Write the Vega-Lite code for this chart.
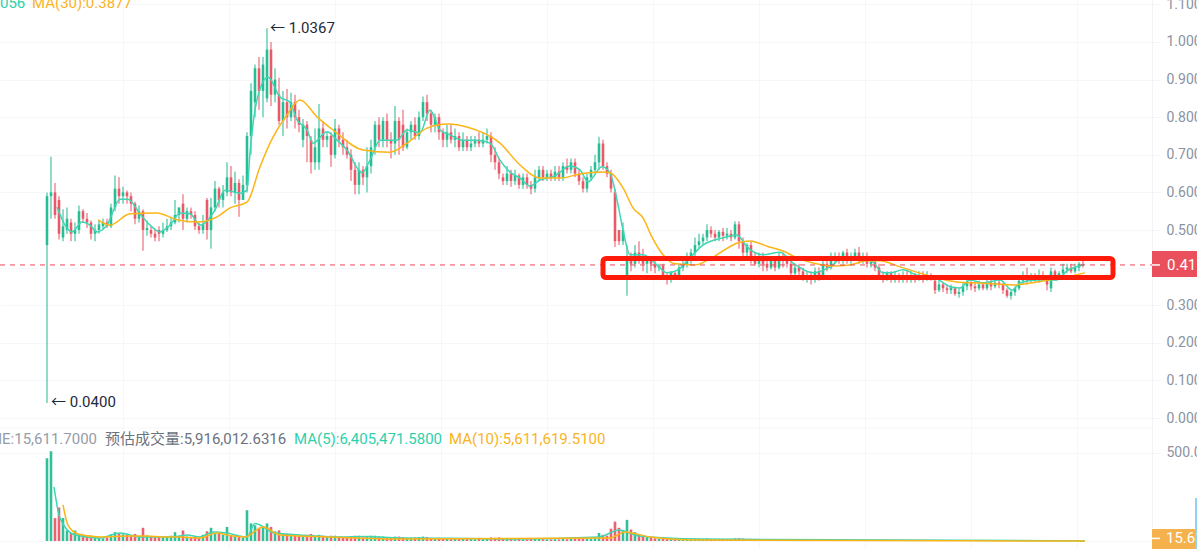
{
"$schema":"https://vega.github.io/schema/vega-lite/v6.json",
"width":1152,"height":549,
"autosize":{"type":"none"},
"padding":{"left":0,"top":0,"right":45,"bottom":0},
"background":"#ffffff",
"config":{"view":{"stroke":null},"font":"Roboto"},
"datasets":{
"candles":[
{"t":0,"o":0.46,"c":0.59,"h":0.6,"l":0.04,"v":470},
{"t":1,"o":0.59,"c":0.6,"h":0.695,"l":0.53,"v":510},
{"t":2,"o":0.6,"c":0.54,"h":0.625,"l":0.53,"v":130},
{"t":3,"o":0.58,"c":0.49,"h":0.59,"l":0.475,"v":190},
{"t":4,"o":0.48,"c":0.51,"h":0.555,"l":0.47,"v":130},
{"t":5,"o":0.5,"c":0.53,"h":0.56,"l":0.49,"v":60},
{"t":6,"o":0.52,"c":0.49,"h":0.53,"l":0.47,"v":45},
{"t":7,"o":0.49,"c":0.5,"h":0.52,"l":0.47,"v":60},
{"t":8,"o":0.5,"c":0.55,"h":0.565,"l":0.49,"v":40},
{"t":9,"o":0.55,"c":0.53,"h":0.555,"l":0.52,"v":35},
{"t":10,"o":0.53,"c":0.52,"h":0.545,"l":0.505,"v":30},
{"t":11,"o":0.52,"c":0.49,"h":0.525,"l":0.475,"v":30},
{"t":12,"o":0.49,"c":0.5,"h":0.515,"l":0.47,"v":25},
{"t":13,"o":0.5,"c":0.515,"h":0.525,"l":0.49,"v":18},
{"t":14,"o":0.51,"c":0.52,"h":0.53,"l":0.5,"v":15},
{"t":15,"o":0.52,"c":0.51,"h":0.53,"l":0.505,"v":20},
{"t":16,"o":0.51,"c":0.56,"h":0.57,"l":0.505,"v":38},
{"t":17,"o":0.56,"c":0.61,"h":0.645,"l":0.55,"v":50},
{"t":18,"o":0.61,"c":0.59,"h":0.64,"l":0.57,"v":42},
{"t":19,"o":0.59,"c":0.6,"h":0.615,"l":0.57,"v":38},
{"t":20,"o":0.6,"c":0.59,"h":0.605,"l":0.57,"v":35},
{"t":21,"o":0.59,"c":0.57,"h":0.6,"l":0.55,"v":30},
{"t":22,"o":0.57,"c":0.53,"h":0.575,"l":0.515,"v":40},
{"t":23,"o":0.53,"c":0.55,"h":0.565,"l":0.52,"v":25},
{"t":24,"o":0.55,"c":0.5,"h":0.555,"l":0.445,"v":75},
{"t":25,"o":0.5,"c":0.505,"h":0.525,"l":0.485,"v":30},
{"t":26,"o":0.5,"c":0.49,"h":0.51,"l":0.48,"v":28},
{"t":27,"o":0.49,"c":0.48,"h":0.5,"l":0.47,"v":22},
{"t":28,"o":0.5,"c":0.49,"h":0.51,"l":0.47,"v":28},
{"t":29,"o":0.49,"c":0.5,"h":0.52,"l":0.48,"v":20},
{"t":30,"o":0.5,"c":0.51,"h":0.53,"l":0.495,"v":25},
{"t":31,"o":0.51,"c":0.52,"h":0.535,"l":0.5,"v":30},
{"t":32,"o":0.52,"c":0.54,"h":0.58,"l":0.515,"v":50},
{"t":33,"o":0.54,"c":0.56,"h":0.56,"l":0.52,"v":30},
{"t":34,"o":0.57,"c":0.53,"h":0.595,"l":0.5,"v":60},
{"t":35,"o":0.53,"c":0.55,"h":0.56,"l":0.52,"v":25},
{"t":36,"o":0.55,"c":0.54,"h":0.56,"l":0.53,"v":22},
{"t":37,"o":0.54,"c":0.51,"h":0.55,"l":0.5,"v":25},
{"t":38,"o":0.51,"c":0.5,"h":0.52,"l":0.49,"v":20},
{"t":39,"o":0.5,"c":0.515,"h":0.54,"l":0.49,"v":35},
{"t":40,"o":0.58,"c":0.5,"h":0.585,"l":0.475,"v":55},
{"t":41,"o":0.5,"c":0.56,"h":0.585,"l":0.45,"v":75},
{"t":42,"o":0.56,"c":0.61,"h":0.63,"l":0.55,"v":45},
{"t":43,"o":0.61,"c":0.58,"h":0.615,"l":0.56,"v":40},
{"t":44,"o":0.58,"c":0.6,"h":0.62,"l":0.56,"v":35},
{"t":45,"o":0.6,"c":0.64,"h":0.68,"l":0.59,"v":80},
{"t":46,"o":0.64,"c":0.6,"h":0.67,"l":0.59,"v":35},
{"t":47,"o":0.6,"c":0.625,"h":0.655,"l":0.57,"v":30},
{"t":48,"o":0.625,"c":0.58,"h":0.635,"l":0.535,"v":25},
{"t":49,"o":0.58,"c":0.62,"h":0.645,"l":0.58,"v":20},
{"t":50,"o":0.62,"c":0.75,"h":0.76,"l":0.6,"v":175},
{"t":51,"o":0.75,"c":0.87,"h":0.89,"l":0.7,"v":100},
{"t":52,"o":0.84,"c":0.93,"h":0.94,"l":0.8,"v":90},
{"t":53,"o":0.93,"c":0.87,"h":0.96,"l":0.82,"v":75},
{"t":54,"o":0.87,"c":0.94,"h":0.96,"l":0.8,"v":85},
{"t":55,"o":0.85,"c":0.98,"h":1.0367,"l":0.84,"v":100},
{"t":56,"o":0.98,"c":0.86,"h":1.0,"l":0.83,"v":80},
{"t":57,"o":0.86,"c":0.9,"h":0.93,"l":0.84,"v":55},
{"t":58,"o":0.86,"c":0.79,"h":0.905,"l":0.78,"v":60},
{"t":59,"o":0.79,"c":0.84,"h":0.87,"l":0.75,"v":45},
{"t":60,"o":0.84,"c":0.8,"h":0.875,"l":0.77,"v":40},
{"t":61,"o":0.8,"c":0.84,"h":0.865,"l":0.79,"v":35},
{"t":62,"o":0.84,"c":0.8,"h":0.86,"l":0.77,"v":35},
{"t":63,"o":0.8,"c":0.78,"h":0.82,"l":0.76,"v":30},
{"t":64,"o":0.74,"c":0.78,"h":0.795,"l":0.72,"v":30},
{"t":65,"o":0.78,"c":0.75,"h":0.79,"l":0.68,"v":35},
{"t":66,"o":0.74,"c":0.68,"h":0.75,"l":0.65,"v":40},
{"t":67,"o":0.68,"c":0.72,"h":0.77,"l":0.66,"v":25},
{"t":68,"o":0.68,"c":0.77,"h":0.835,"l":0.66,"v":35},
{"t":69,"o":0.77,"c":0.74,"h":0.79,"l":0.72,"v":30},
{"t":70,"o":0.74,"c":0.75,"h":0.76,"l":0.72,"v":22},
{"t":71,"o":0.75,"c":0.7,"h":0.76,"l":0.668,"v":30},
{"t":72,"o":0.7,"c":0.77,"h":0.795,"l":0.69,"v":30},
{"t":73,"o":0.77,"c":0.74,"h":0.78,"l":0.72,"v":25},
{"t":74,"o":0.74,"c":0.72,"h":0.76,"l":0.7,"v":22},
{"t":75,"o":0.72,"c":0.7,"h":0.74,"l":0.69,"v":20},
{"t":76,"o":0.7,"c":0.66,"h":0.715,"l":0.63,"v":28},
{"t":77,"o":0.66,"c":0.62,"h":0.68,"l":0.595,"v":30},
{"t":78,"o":0.62,"c":0.66,"h":0.68,"l":0.595,"v":30},
{"t":79,"o":0.66,"c":0.64,"h":0.67,"l":0.62,"v":20},
{"t":80,"o":0.64,"c":0.67,"h":0.72,"l":0.6,"v":25},
{"t":81,"o":0.67,"c":0.72,"h":0.74,"l":0.65,"v":30},
{"t":82,"o":0.72,"c":0.78,"h":0.79,"l":0.7,"v":30},
{"t":83,"o":0.78,"c":0.74,"h":0.8,"l":0.72,"v":25},
{"t":84,"o":0.74,"c":0.79,"h":0.8,"l":0.72,"v":25},
{"t":85,"o":0.79,"c":0.74,"h":0.81,"l":0.72,"v":22},
{"t":86,"o":0.74,"c":0.73,"h":0.76,"l":0.69,"v":20},
{"t":87,"o":0.73,"c":0.79,"h":0.83,"l":0.7,"v":25},
{"t":88,"o":0.79,"c":0.74,"h":0.8,"l":0.7,"v":25},
{"t":89,"o":0.78,"c":0.72,"h":0.82,"l":0.71,"v":22},
{"t":90,"o":0.72,"c":0.76,"h":0.77,"l":0.715,"v":18},
{"t":91,"o":0.76,"c":0.78,"h":0.79,"l":0.74,"v":18},
{"t":92,"o":0.78,"c":0.75,"h":0.8,"l":0.74,"v":20},
{"t":93,"o":0.75,"c":0.8,"h":0.815,"l":0.74,"v":22},
{"t":94,"o":0.8,"c":0.84,"h":0.855,"l":0.79,"v":25},
{"t":95,"o":0.84,"c":0.81,"h":0.86,"l":0.79,"v":22},
{"t":96,"o":0.81,"c":0.78,"h":0.82,"l":0.76,"v":18},
{"t":97,"o":0.78,"c":0.8,"h":0.81,"l":0.76,"v":15},
{"t":98,"o":0.8,"c":0.76,"h":0.81,"l":0.74,"v":18},
{"t":99,"o":0.76,"c":0.74,"h":0.77,"l":0.72,"v":16},
{"t":100,"o":0.74,"c":0.76,"h":0.78,"l":0.72,"v":15},
{"t":101,"o":0.76,"c":0.74,"h":0.78,"l":0.73,"v":14},
{"t":102,"o":0.74,"c":0.75,"h":0.77,"l":0.72,"v":14},
{"t":103,"o":0.75,"c":0.72,"h":0.76,"l":0.71,"v":15},
{"t":104,"o":0.72,"c":0.74,"h":0.76,"l":0.71,"v":13},
{"t":105,"o":0.74,"c":0.72,"h":0.75,"l":0.71,"v":12},
{"t":106,"o":0.72,"c":0.73,"h":0.75,"l":0.71,"v":12},
{"t":107,"o":0.73,"c":0.74,"h":0.75,"l":0.72,"v":10},
{"t":108,"o":0.74,"c":0.73,"h":0.76,"l":0.72,"v":12},
{"t":109,"o":0.73,"c":0.74,"h":0.76,"l":0.72,"v":11},
{"t":110,"o":0.74,"c":0.75,"h":0.77,"l":0.73,"v":12},
{"t":111,"o":0.75,"c":0.7,"h":0.76,"l":0.68,"v":20},
{"t":112,"o":0.7,"c":0.68,"h":0.72,"l":0.66,"v":18},
{"t":113,"o":0.68,"c":0.65,"h":0.69,"l":0.635,"v":20},
{"t":114,"o":0.64,"c":0.63,"h":0.65,"l":0.62,"v":15},
{"t":115,"o":0.63,"c":0.65,"h":0.67,"l":0.62,"v":12},
{"t":116,"o":0.65,"c":0.63,"h":0.66,"l":0.615,"v":12},
{"t":117,"o":0.63,"c":0.645,"h":0.66,"l":0.62,"v":10},
{"t":118,"o":0.645,"c":0.62,"h":0.65,"l":0.61,"v":12},
{"t":119,"o":0.62,"c":0.64,"h":0.65,"l":0.61,"v":10},
{"t":120,"o":0.64,"c":0.62,"h":0.65,"l":0.61,"v":10},
{"t":121,"o":0.62,"c":0.61,"h":0.63,"l":0.595,"v":14},
{"t":122,"o":0.61,"c":0.64,"h":0.66,"l":0.6,"v":14},
{"t":123,"o":0.64,"c":0.66,"h":0.67,"l":0.63,"v":12},
{"t":124,"o":0.66,"c":0.64,"h":0.67,"l":0.63,"v":10},
{"t":125,"o":0.64,"c":0.65,"h":0.66,"l":0.63,"v":9},
{"t":126,"o":0.65,"c":0.64,"h":0.66,"l":0.63,"v":9},
{"t":127,"o":0.64,"c":0.655,"h":0.67,"l":0.63,"v":10},
{"t":128,"o":0.655,"c":0.64,"h":0.67,"l":0.63,"v":9},
{"t":129,"o":0.64,"c":0.67,"h":0.68,"l":0.63,"v":12},
{"t":130,"o":0.67,"c":0.66,"h":0.69,"l":0.65,"v":10},
{"t":131,"o":0.66,"c":0.68,"h":0.69,"l":0.65,"v":12},
{"t":132,"o":0.68,"c":0.65,"h":0.69,"l":0.64,"v":12},
{"t":133,"o":0.65,"c":0.63,"h":0.66,"l":0.62,"v":14},
{"t":134,"o":0.63,"c":0.61,"h":0.64,"l":0.6,"v":16},
{"t":135,"o":0.61,"c":0.64,"h":0.65,"l":0.6,"v":15},
{"t":136,"o":0.64,"c":0.66,"h":0.67,"l":0.63,"v":14},
{"t":137,"o":0.66,"c":0.68,"h":0.7,"l":0.65,"v":18},
{"t":138,"o":0.68,"c":0.73,"h":0.748,"l":0.66,"v":45},
{"t":139,"o":0.73,"c":0.67,"h":0.74,"l":0.66,"v":35},
{"t":140,"o":0.67,"c":0.65,"h":0.68,"l":0.64,"v":30},
{"t":141,"o":0.65,"c":0.61,"h":0.66,"l":0.6,"v":70},
{"t":142,"o":0.6,"c":0.47,"h":0.61,"l":0.455,"v":110},
{"t":143,"o":0.5,"c":0.47,"h":0.5,"l":0.46,"v":75},
{"t":144,"o":0.47,"c":0.5,"h":0.52,"l":0.46,"v":60},
{"t":145,"o":0.38,"c":0.42,"h":0.46,"l":0.325,"v":120},
{"t":146,"o":0.42,"c":0.41,"h":0.44,"l":0.39,"v":65},
{"t":147,"o":0.41,"c":0.44,"h":0.46,"l":0.4,"v":50},
{"t":148,"o":0.44,"c":0.43,"h":0.47,"l":0.41,"v":40},
{"t":149,"o":0.43,"c":0.41,"h":0.45,"l":0.39,"v":30},
{"t":150,"o":0.41,"c":0.42,"h":0.43,"l":0.385,"v":22},
{"t":151,"o":0.42,"c":0.41,"h":0.43,"l":0.39,"v":18},
{"t":152,"o":0.41,"c":0.4,"h":0.42,"l":0.385,"v":15},
{"t":153,"o":0.4,"c":0.405,"h":0.41,"l":0.39,"v":12},
{"t":154,"o":0.405,"c":0.38,"h":0.41,"l":0.37,"v":15},
{"t":155,"o":0.38,"c":0.37,"h":0.385,"l":0.355,"v":14},
{"t":156,"o":0.37,"c":0.385,"h":0.39,"l":0.36,"v":10},
{"t":157,"o":0.385,"c":0.38,"h":0.39,"l":0.37,"v":8},
{"t":158,"o":0.38,"c":0.4,"h":0.41,"l":0.37,"v":10},
{"t":159,"o":0.4,"c":0.41,"h":0.43,"l":0.39,"v":10},
{"t":160,"o":0.41,"c":0.42,"h":0.44,"l":0.4,"v":10},
{"t":161,"o":0.42,"c":0.44,"h":0.45,"l":0.41,"v":12},
{"t":162,"o":0.44,"c":0.46,"h":0.48,"l":0.43,"v":14},
{"t":163,"o":0.46,"c":0.47,"h":0.49,"l":0.45,"v":12},
{"t":164,"o":0.47,"c":0.48,"h":0.49,"l":0.46,"v":10},
{"t":165,"o":0.48,"c":0.5,"h":0.515,"l":0.47,"v":14},
{"t":166,"o":0.5,"c":0.49,"h":0.51,"l":0.48,"v":10},
{"t":167,"o":0.49,"c":0.48,"h":0.5,"l":0.47,"v":8},
{"t":168,"o":0.48,"c":0.495,"h":0.5,"l":0.47,"v":8},
{"t":169,"o":0.495,"c":0.485,"h":0.505,"l":0.47,"v":8},
{"t":170,"o":0.485,"c":0.49,"h":0.505,"l":0.475,"v":8},
{"t":171,"o":0.49,"c":0.48,"h":0.5,"l":0.47,"v":7},
{"t":172,"o":0.48,"c":0.515,"h":0.523,"l":0.475,"v":15},
{"t":173,"o":0.515,"c":0.47,"h":0.523,"l":0.45,"v":16},
{"t":174,"o":0.47,"c":0.44,"h":0.48,"l":0.42,"v":14},
{"t":175,"o":0.44,"c":0.46,"h":0.465,"l":0.43,"v":10},
{"t":176,"o":0.46,"c":0.43,"h":0.47,"l":0.41,"v":12},
{"t":177,"o":0.43,"c":0.41,"h":0.44,"l":0.405,"v":10},
{"t":178,"o":0.41,"c":0.43,"h":0.44,"l":0.4,"v":9},
{"t":179,"o":0.43,"c":0.41,"h":0.44,"l":0.39,"v":9},
{"t":180,"o":0.41,"c":0.4,"h":0.42,"l":0.39,"v":8},
{"t":181,"o":0.4,"c":0.42,"h":0.43,"l":0.395,"v":7},
{"t":182,"o":0.42,"c":0.4,"h":0.43,"l":0.39,"v":7},
{"t":183,"o":0.4,"c":0.43,"h":0.44,"l":0.395,"v":8},
{"t":184,"o":0.43,"c":0.42,"h":0.44,"l":0.4,"v":7},
{"t":185,"o":0.42,"c":0.41,"h":0.43,"l":0.4,"v":6},
{"t":186,"o":0.41,"c":0.385,"h":0.42,"l":0.38,"v":8},
{"t":187,"o":0.385,"c":0.4,"h":0.41,"l":0.38,"v":6},
{"t":188,"o":0.4,"c":0.39,"h":0.41,"l":0.375,"v":6},
{"t":189,"o":0.39,"c":0.37,"h":0.4,"l":0.365,"v":7},
{"t":190,"o":0.37,"c":0.38,"h":0.39,"l":0.36,"v":6},
{"t":191,"o":0.38,"c":0.37,"h":0.39,"l":0.355,"v":6},
{"t":192,"o":0.37,"c":0.39,"h":0.4,"l":0.36,"v":7},
{"t":193,"o":0.39,"c":0.38,"h":0.4,"l":0.365,"v":5},
{"t":194,"o":0.38,"c":0.41,"h":0.42,"l":0.375,"v":8},
{"t":195,"o":0.41,"c":0.4,"h":0.42,"l":0.39,"v":5},
{"t":196,"o":0.4,"c":0.42,"h":0.44,"l":0.395,"v":8},
{"t":197,"o":0.42,"c":0.43,"h":0.44,"l":0.41,"v":6},
{"t":198,"o":0.43,"c":0.42,"h":0.44,"l":0.41,"v":5},
{"t":199,"o":0.42,"c":0.44,"h":0.445,"l":0.41,"v":6},
{"t":200,"o":0.44,"c":0.42,"h":0.45,"l":0.41,"v":6},
{"t":201,"o":0.42,"c":0.43,"h":0.44,"l":0.41,"v":4},
{"t":202,"o":0.43,"c":0.44,"h":0.45,"l":0.42,"v":5},
{"t":203,"o":0.44,"c":0.42,"h":0.455,"l":0.41,"v":6},
{"t":204,"o":0.42,"c":0.43,"h":0.44,"l":0.41,"v":4},
{"t":205,"o":0.43,"c":0.41,"h":0.44,"l":0.4,"v":5},
{"t":206,"o":0.41,"c":0.415,"h":0.43,"l":0.4,"v":4},
{"t":207,"o":0.415,"c":0.4,"h":0.42,"l":0.39,"v":5},
{"t":208,"o":0.4,"c":0.38,"h":0.41,"l":0.37,"v":6},
{"t":209,"o":0.38,"c":0.37,"h":0.39,"l":0.36,"v":5},
{"t":210,"o":0.37,"c":0.385,"h":0.39,"l":0.365,"v":4},
{"t":211,"o":0.385,"c":0.37,"h":0.39,"l":0.36,"v":4},
{"t":212,"o":0.37,"c":0.375,"h":0.39,"l":0.36,"v":3},
{"t":213,"o":0.375,"c":0.37,"h":0.385,"l":0.36,"v":3},
{"t":214,"o":0.37,"c":0.38,"h":0.39,"l":0.36,"v":3},
{"t":215,"o":0.38,"c":0.37,"h":0.39,"l":0.36,"v":3},
{"t":216,"o":0.37,"c":0.375,"h":0.39,"l":0.36,"v":3},
{"t":217,"o":0.375,"c":0.37,"h":0.385,"l":0.36,"v":3},
{"t":218,"o":0.37,"c":0.38,"h":0.39,"l":0.365,"v":3},
{"t":219,"o":0.38,"c":0.37,"h":0.39,"l":0.36,"v":3},
{"t":220,"o":0.37,"c":0.38,"h":0.39,"l":0.365,"v":3},
{"t":221,"o":0.38,"c":0.37,"h":0.385,"l":0.365,"v":3},
{"t":222,"o":0.365,"c":0.34,"h":0.37,"l":0.33,"v":6},
{"t":223,"o":0.34,"c":0.355,"h":0.37,"l":0.335,"v":4},
{"t":224,"o":0.355,"c":0.345,"h":0.36,"l":0.335,"v":3},
{"t":225,"o":0.345,"c":0.34,"h":0.355,"l":0.33,"v":3},
{"t":226,"o":0.34,"c":0.35,"h":0.355,"l":0.33,"v":3},
{"t":227,"o":0.345,"c":0.33,"h":0.35,"l":0.325,"v":3},
{"t":228,"o":0.33,"c":0.335,"h":0.345,"l":0.32,"v":3},
{"t":229,"o":0.335,"c":0.35,"h":0.36,"l":0.325,"v":3},
{"t":230,"o":0.35,"c":0.36,"h":0.37,"l":0.34,"v":4},
{"t":231,"o":0.36,"c":0.35,"h":0.37,"l":0.34,"v":3},
{"t":232,"o":0.35,"c":0.345,"h":0.36,"l":0.335,"v":2},
{"t":233,"o":0.345,"c":0.355,"h":0.365,"l":0.34,"v":2},
{"t":234,"o":0.355,"c":0.345,"h":0.36,"l":0.34,"v":2},
{"t":235,"o":0.345,"c":0.36,"h":0.37,"l":0.34,"v":3},
{"t":236,"o":0.36,"c":0.35,"h":0.37,"l":0.34,"v":2},
{"t":237,"o":0.35,"c":0.36,"h":0.37,"l":0.345,"v":2},
{"t":238,"o":0.36,"c":0.355,"h":0.37,"l":0.345,"v":2},
{"t":239,"o":0.355,"c":0.34,"h":0.36,"l":0.33,"v":3},
{"t":240,"o":0.34,"c":0.325,"h":0.345,"l":0.32,"v":3},
{"t":241,"o":0.325,"c":0.335,"h":0.34,"l":0.315,"v":3},
{"t":242,"o":0.335,"c":0.345,"h":0.35,"l":0.325,"v":2},
{"t":243,"o":0.345,"c":0.365,"h":0.38,"l":0.34,"v":4},
{"t":244,"o":0.365,"c":0.37,"h":0.39,"l":0.355,"v":3},
{"t":245,"o":0.37,"c":0.365,"h":0.4,"l":0.355,"v":4},
{"t":246,"o":0.365,"c":0.375,"h":0.385,"l":0.36,"v":3},
{"t":247,"o":0.375,"c":0.37,"h":0.385,"l":0.36,"v":3},
{"t":248,"o":0.37,"c":0.38,"h":0.395,"l":0.36,"v":4},
{"t":249,"o":0.38,"c":0.37,"h":0.39,"l":0.365,"v":3},
{"t":250,"o":0.37,"c":0.355,"h":0.375,"l":0.34,"v":4},
{"t":251,"o":0.345,"c":0.39,"h":0.4,"l":0.335,"v":6},
{"t":252,"o":0.39,"c":0.375,"h":0.395,"l":0.365,"v":3},
{"t":253,"o":0.375,"c":0.385,"h":0.39,"l":0.37,"v":3},
{"t":254,"o":0.385,"c":0.395,"h":0.41,"l":0.38,"v":4},
{"t":255,"o":0.395,"c":0.4,"h":0.41,"l":0.385,"v":3},
{"t":256,"o":0.4,"c":0.39,"h":0.41,"l":0.385,"v":3},
{"t":257,"o":0.39,"c":0.4,"h":0.41,"l":0.385,"v":3},
{"t":258,"o":0.4,"c":0.41,"h":0.415,"l":0.39,"v":4},
{"t":259,"o":0.41,"c":0.407,"h":0.425,"l":0.4,"v":0.02}
],
"priceMA":[
{"t":2.5,"p":0.561,"s":"MA5"},{"t":4.5,"p":0.513,"s":"MA5"},{"t":6.25,"p":0.495,"s":"MA5"},{"t":8.75,"p":0.521,"s":"MA5"},{"t":10.75,"p":0.513,"s":"MA5"},{"t":12.5,"p":0.495,"s":"MA5"},{"t":15,"p":0.513,"s":"MA5"},{"t":18.25,"p":0.582,"s":"MA5"},{"t":20.25,"p":0.582,"s":"MA5"},{"t":23.25,"p":0.543,"s":"MA5"},{"t":25.75,"p":0.513,"s":"MA5"},{"t":28.25,"p":0.495,"s":"MA5"},{"t":30.75,"p":0.513,"s":"MA5"},{"t":33.25,"p":0.545,"s":"MA5"},{"t":35.75,"p":0.543,"s":"MA5"},{"t":38.25,"p":0.513,"s":"MA5"},{"t":42,"p":0.553,"s":"MA5"},{"t":44.5,"p":0.606,"s":"MA5"},{"t":48.25,"p":0.598,"s":"MA5"},{"t":50,"p":0.606,"s":"MA5"},{"t":50.75,"p":0.705,"s":"MA5"},{"t":52.5,"p":0.846,"s":"MA5"},{"t":55.25,"p":0.907,"s":"MA5"},{"t":58.25,"p":0.854,"s":"MA5"},{"t":60.75,"p":0.84,"s":"MA5"},{"t":62.5,"p":0.793,"s":"MA5"},{"t":65,"p":0.766,"s":"MA5"},{"t":66.5,"p":0.731,"s":"MA5"},{"t":70,"p":0.761,"s":"MA5"},{"t":72.5,"p":0.739,"s":"MA5"},{"t":75,"p":0.713,"s":"MA5"},{"t":78.75,"p":0.652,"s":"MA5"},{"t":80.75,"p":0.686,"s":"MA5"},{"t":83.25,"p":0.739,"s":"MA5"},{"t":87.5,"p":0.739,"s":"MA5"},{"t":90,"p":0.766,"s":"MA5"},{"t":93.25,"p":0.758,"s":"MA5"},{"t":95.75,"p":0.819,"s":"MA5"},{"t":98.25,"p":0.766,"s":"MA5"},{"t":100.75,"p":0.753,"s":"MA5"},{"t":104,"p":0.739,"s":"MA5"},{"t":107.5,"p":0.739,"s":"MA5"},{"t":110.75,"p":0.731,"s":"MA5"},{"t":113.25,"p":0.686,"s":"MA5"},{"t":115.75,"p":0.654,"s":"MA5"},{"t":118.25,"p":0.638,"s":"MA5"},{"t":120.75,"p":0.617,"s":"MA5"},{"t":123.25,"p":0.633,"s":"MA5"},{"t":127,"p":0.644,"s":"MA5"},{"t":130.75,"p":0.67,"s":"MA5"},{"t":133.25,"p":0.66,"s":"MA5"},{"t":135.25,"p":0.628,"s":"MA5"},{"t":138.75,"p":0.668,"s":"MA5"},{"t":140.75,"p":0.652,"s":"MA5"},{"t":142.5,"p":0.58,"s":"MA5"},{"t":144,"p":0.5,"s":"MA5"},{"t":145.75,"p":0.434,"s":"MA5"},{"t":149,"p":0.434,"s":"MA5"},{"t":152.5,"p":0.407,"s":"MA5"},{"t":155,"p":0.386,"s":"MA5"},{"t":157.75,"p":0.394,"s":"MA5"},{"t":160.75,"p":0.426,"s":"MA5"},{"t":164,"p":0.46,"s":"MA5"},{"t":169,"p":0.479,"s":"MA5"},{"t":172.5,"p":0.487,"s":"MA5"},{"t":175,"p":0.455,"s":"MA5"},{"t":179,"p":0.434,"s":"MA5"},{"t":183.25,"p":0.441,"s":"MA5"},{"t":186.5,"p":0.412,"s":"MA5"},{"t":191.5,"p":0.386,"s":"MA5"},{"t":195.75,"p":0.402,"s":"MA5"},{"t":199,"p":0.426,"s":"MA5"},{"t":204,"p":0.426,"s":"MA5"},{"t":206.5,"p":0.415,"s":"MA5"},{"t":209,"p":0.386,"s":"MA5"},{"t":210.75,"p":0.386,"s":"MA5"},{"t":214,"p":0.394,"s":"MA5"},{"t":217.5,"p":0.38,"s":"MA5"},{"t":221.5,"p":0.375,"s":"MA5"},{"t":226.25,"p":0.348,"s":"MA5"},{"t":228.25,"p":0.346,"s":"MA5"},{"t":230.75,"p":0.367,"s":"MA5"},{"t":234,"p":0.359,"s":"MA5"},{"t":238.25,"p":0.367,"s":"MA5"},{"t":241.25,"p":0.34,"s":"MA5"},{"t":243.25,"p":0.359,"s":"MA5"},{"t":247.5,"p":0.367,"s":"MA5"},{"t":252.5,"p":0.367,"s":"MA5"},{"t":255,"p":0.391,"s":"MA5"},{"t":259,"p":0.407,"s":"MA5"},
{"t":12.75,"p":0.527,"s":"MA30"},{"t":15.75,"p":0.513,"s":"MA30"},{"t":20.75,"p":0.543,"s":"MA30"},{"t":27.5,"p":0.545,"s":"MA30"},{"t":32.5,"p":0.527,"s":"MA30"},{"t":37.5,"p":0.521,"s":"MA30"},{"t":42.5,"p":0.535,"s":"MA30"},{"t":45.75,"p":0.559,"s":"MA30"},{"t":50,"p":0.574,"s":"MA30"},{"t":53.25,"p":0.668,"s":"MA30"},{"t":55.75,"p":0.731,"s":"MA30"},{"t":60,"p":0.806,"s":"MA30"},{"t":63.25,"p":0.846,"s":"MA30"},{"t":67.5,"p":0.801,"s":"MA30"},{"t":71.5,"p":0.766,"s":"MA30"},{"t":79,"p":0.713,"s":"MA30"},{"t":85.75,"p":0.707,"s":"MA30"},{"t":90,"p":0.731,"s":"MA30"},{"t":95,"p":0.771,"s":"MA30"},{"t":100.25,"p":0.782,"s":"MA30"},{"t":105,"p":0.774,"s":"MA30"},{"t":113.25,"p":0.731,"s":"MA30"},{"t":118.25,"p":0.673,"s":"MA30"},{"t":123.25,"p":0.638,"s":"MA30"},{"t":128.25,"p":0.638,"s":"MA30"},{"t":133.25,"p":0.649,"s":"MA30"},{"t":138.75,"p":0.654,"s":"MA30"},{"t":140.75,"p":0.652,"s":"MA30"},{"t":144,"p":0.612,"s":"MA30"},{"t":146.5,"p":0.559,"s":"MA30"},{"t":149,"p":0.532,"s":"MA30"},{"t":151.25,"p":0.481,"s":"MA30"},{"t":154,"p":0.434,"s":"MA30"},{"t":157,"p":0.41,"s":"MA30"},{"t":162,"p":0.407,"s":"MA30"},{"t":166.5,"p":0.428,"s":"MA30"},{"t":172.5,"p":0.465,"s":"MA30"},{"t":175.75,"p":0.471,"s":"MA30"},{"t":180,"p":0.457,"s":"MA30"},{"t":184,"p":0.444,"s":"MA30"},{"t":187.5,"p":0.426,"s":"MA30"},{"t":191.5,"p":0.412,"s":"MA30"},{"t":196.5,"p":0.404,"s":"MA30"},{"t":200.75,"p":0.407,"s":"MA30"},{"t":205,"p":0.418,"s":"MA30"},{"t":208.25,"p":0.418,"s":"MA30"},{"t":213.25,"p":0.402,"s":"MA30"},{"t":220,"p":0.38,"s":"MA30"},{"t":227.5,"p":0.362,"s":"MA30"},{"t":233.25,"p":0.359,"s":"MA30"},{"t":241.5,"p":0.354,"s":"MA30"},{"t":247.5,"p":0.362,"s":"MA30"},{"t":253.25,"p":0.372,"s":"MA30"},{"t":259.5,"p":0.386,"s":"MA30"}
],
"volMA":[
{"t":1.75,"v":307,"s":"MA5"},{"t":3.25,"v":130,"s":"MA5"},{"t":7,"v":34,"s":"MA5"},{"t":13.25,"v":17,"s":"MA5"},{"t":18.25,"v":45,"s":"MA5"},{"t":23.25,"v":23,"s":"MA5"},{"t":27.5,"v":23,"s":"MA5"},{"t":31.5,"v":23,"s":"MA5"},{"t":35,"v":34,"s":"MA5"},{"t":38.25,"v":23,"s":"MA5"},{"t":41.5,"v":51,"s":"MA5"},{"t":45,"v":45,"s":"MA5"},{"t":50,"v":23,"s":"MA5"},{"t":52,"v":100,"s":"MA5"},{"t":57,"v":45,"s":"MA5"},{"t":60,"v":40,"s":"MA5"},{"t":63.25,"v":34,"s":"MA5"},{"t":68,"v":28,"s":"MA5"},{"t":73,"v":23,"s":"MA5"},{"t":80,"v":25,"s":"MA5"},{"t":88,"v":17,"s":"MA5"},{"t":100,"v":15,"s":"MA5"},{"t":115,"v":12,"s":"MA5"},{"t":138,"v":23,"s":"MA5"},{"t":143,"v":62,"s":"MA5"},{"t":148,"v":28,"s":"MA5"},{"t":163,"v":11,"s":"MA5"},{"t":180,"v":9,"s":"MA5"},{"t":213,"v":6,"s":"MA5"},{"t":259.5,"v":0.02,"s":"MA5"},
{"t":4,"v":205,"s":"MA10"},{"t":5.25,"v":90,"s":"MA10"},{"t":7.75,"v":40,"s":"MA10"},{"t":13.25,"v":23,"s":"MA10"},{"t":20.75,"v":28,"s":"MA10"},{"t":25,"v":28,"s":"MA10"},{"t":29,"v":23,"s":"MA10"},{"t":33.25,"v":23,"s":"MA10"},{"t":38.25,"v":17,"s":"MA10"},{"t":42.5,"v":45,"s":"MA10"},{"t":46.5,"v":28,"s":"MA10"},{"t":49.5,"v":23,"s":"MA10"},{"t":54,"v":80,"s":"MA10"},{"t":58.25,"v":34,"s":"MA10"},{"t":70.75,"v":23,"s":"MA10"},{"t":88.25,"v":11,"s":"MA10"},{"t":140.75,"v":17,"s":"MA10"},{"t":144.5,"v":51,"s":"MA10"},{"t":150.75,"v":23,"s":"MA10"},{"t":163,"v":6,"s":"MA10"},{"t":259.5,"v":0.02,"s":"MA10"}
],
"boxes":[
{"t":276.25,"t2":287.5,"p":0.444,"p2":0.375,"k":"last"},
{"t":276.25,"t2":287.5,"p":-0.295,"p2":-0.3484,"k":"vol"},
{"t":287,"t2":287.5,"p":-0.213,"p2":-0.3484,"k":"btn"}
],
"ticks":[
{"t":276.25,"t2":278.25,"p":0.407},
{"t":276.25,"t2":278.25,"p":-0.3202}
],
"labels":[
{"t":-11.75,"p":1.104,"label":"056","k":"teal"},
{"t":-3.75,"p":1.104,"label":"MA(30):0.3877","k":"orange"},
{"t":55.75,"p":1.037,"label":"← 1.0367","k":"dark"},
{"t":1,"p":0.0426,"label":"← 0.0400","k":"dark"},
{"t":14.5,"p":-0.0565,"label":"预估成交量:5,916,012.6316","k":"mid"},
{"t":61.75,"p":-0.0565,"label":"MA(5):6,405,471.5800","k":"teal"},
{"t":100.5,"p":-0.0565,"label":"MA(10):5,611,619.5100","k":"orange"},
{"t":280,"p":0.407,"label":"0.4111","k":"white"},
{"t":279.75,"p":-0.3202,"label":"15.6117K","k":"white"}
]
},
"encoding":{
"x":{"field":"t","type":"quantitative","title":null,
"scale":{"domain":[-11.75,276.25],"nice":false,"zero":false,"padding":0},
"axis":{"values":[19,45.5,72,98.5,125,151.5,178,204.5,231,257.5],"labels":false,"ticks":false,"domain":false,"grid":true,"gridColor":"#f6f7f9","title":null}}
},
"resolve":{"scale":{"y":"independent","color":"independent"},"axis":{"y":"independent"}},
"layer":[
{"encoding":{
"y":{"field":"p","type":"quantitative","title":null,
"scale":{"domain":[-0.3484,1.1117],"nice":false,"zero":false},
"axis":{"orient":"right","values":[0,0.1,0.2,0.3,0.4,0.5,0.6,0.7,0.8,0.9,1,1.1],"labelExpr":"datum.value==0.4?'':format(datum.value,'.4f')","grid":true,"gridColor":"#f6f7f9","tickColor":"#f2f3f6","tickSize":8,"domainColor":"#f2f3f6","labelColor":"#8b93a1","labelFontSize":14,"labelPadding":6,"title":null}}
},
"resolve":{"scale":{"color":"independent"}},
"layer":[
{"data":{"name":"candles"},"mark":{"type":"rule","strokeWidth":1.1,"opacity":0.9},
"encoding":{"y":{"field":"l","type":"quantitative"},"y2":{"field":"h"},
"color":{"condition":{"test":"datum.c>=datum.o","value":"#1cb98f"},"value":"#e9505f"}}},
{"data":{"name":"candles"},"mark":{"type":"bar","size":2.6,"orient":"vertical","opacity":0.9},
"encoding":{"y":{"field":"o","type":"quantitative"},"y2":{"field":"c"},
"color":{"condition":{"test":"datum.c>=datum.o","value":"#1cb98f"},"value":"#e9505f"}}},
{"data":{"name":"priceMA"},"mark":{"type":"line","interpolate":"monotone","strokeWidth":1.5},
"encoding":{"color":{"field":"s","type":"nominal","legend":null,"scale":{"domain":["MA5","MA30"],"range":["#3ed6b3","#fdb417"]}}}},
{"data":{"values":[{"p":0.407}]},"mark":{"type":"rule","color":"#ee4556","strokeWidth":1,"strokeDash":[5,5]},"encoding":{"x":{"value":0},"x2":{"value":1152}}},
{"data":{"values":[{"p":-0.0266}]},"mark":{"type":"rule","color":"#f6f7f9","strokeWidth":1},"encoding":{"x":{"value":0},"x2":{"value":1152}}},
{"data":{"values":[{"t":139,"t2":266.5,"p":0.4245,"p2":0.3735}]},"mark":{"type":"rect","fillOpacity":0,"stroke":"#ff1a0a","strokeWidth":5,"cornerRadius":3},"encoding":{"x2":{"field":"t2"},"y2":{"field":"p2"}}},
{"data":{"name":"boxes"},"mark":{"type":"rect"},"encoding":{"x2":{"field":"t2"},"y2":{"field":"p2"},
"fill":{"field":"k","type":"nominal","legend":null,"scale":{"domain":["last","vol","btn"],"range":["#e9505c","#f5b14c","#8fd0f5"]}}}},
{"data":{"name":"ticks"},"mark":{"type":"rule","color":"#ffffff","strokeWidth":1.5},"encoding":{"x2":{"field":"t2"}}},
{"data":{"name":"labels"},"mark":{"type":"text","align":"left","baseline":"middle","fontSize":15,"font":"Roboto, 'Noto Sans CJK SC'"},
"encoding":{"text":{"field":"label"},"color":{"field":"k","type":"nominal","legend":null,"scale":{"domain":["teal","orange","dark","mid","white"],"range":["#2fd1ac","#fab31e","#1e2a3a","#6b7280","#ffffff"]}}}},
{"data":{"values":[{"t":12.5,"p":-0.0565,"label":"VOLUME:15,611.7000"}]},"mark":{"type":"text","align":"right","baseline":"middle","fontSize":15,"font":"Roboto","color":"#969ca8"},"encoding":{"text":{"field":"label"}}}
]},
{"encoding":{
"y":{"field":"v","type":"quantitative","title":null,
"scale":{"domain":[-45.5,3074],"nice":false,"zero":false},
"axis":{"orient":"right","values":[0,500],"labelExpr":"datum.value==0?'':format(datum.value,'.4f')","grid":true,"gridColor":"#f6f7f9","tickColor":"#f2f3f6","tickSize":8,"domain":false,"labelColor":"#8b93a1","labelFontSize":14,"labelPadding":6,"title":null}}
},
"layer":[
{"data":{"name":"candles"},"mark":{"type":"bar","size":2.6,"orient":"vertical","opacity":0.9},
"encoding":{"y":{"field":"v","type":"quantitative","stack":null},"y2":{"datum":0},
"color":{"condition":{"test":"datum.c>=datum.o","value":"#1cb98f"},"value":"#e9505f"}}},
{"data":{"name":"volMA"},"mark":{"type":"line","interpolate":"monotone","strokeWidth":1.5},
"encoding":{"color":{"field":"s","type":"nominal","legend":null,"scale":{"domain":["MA5","MA10"],"range":["#3ed6b3","#fdb417"]}}}}
]}
]
}
